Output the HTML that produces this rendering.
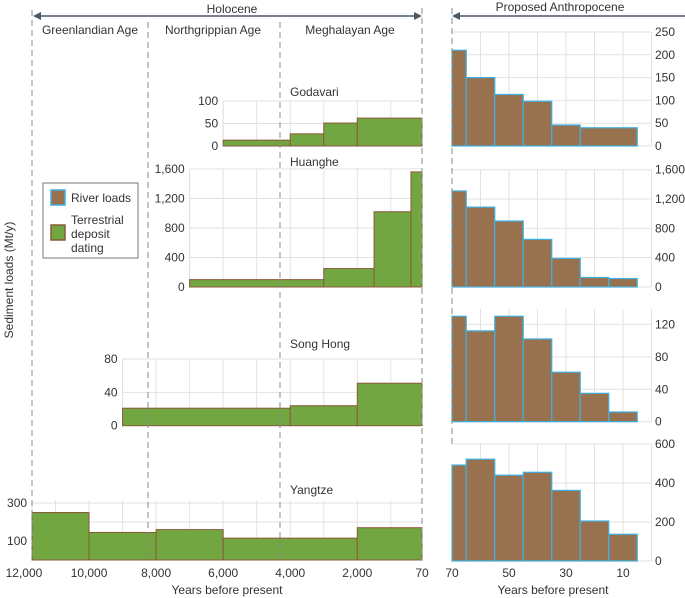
<!DOCTYPE html>
<html><head><meta charset="utf-8">
<style>
html,body{margin:0;padding:0;background:#fff;}
svg{display:block;font-family:"Liberation Sans Narrow","Liberation Sans",sans-serif;}
text{fill:#333;font-size:12px;}
</style></head>
<body>
<svg id="chart" width="685" height="598" viewBox="0 0 685 598" xmlns="http://www.w3.org/2000/svg">
 <g id="annot">
  <text x="232" y="13" text-anchor="middle">Holocene</text>
  <line x1="36" y1="16" x2="420" y2="16" stroke="#4a5868" stroke-width="1.5"/>
  <path d="M33,16 l8,-4 v8z M422,16 l-8,-4 v8z" fill="#4a5868"/>
  <text x="560" y="11" text-anchor="middle">Proposed Anthropocene</text>
  <line x1="456" y1="16" x2="685" y2="16" stroke="#4a5868" stroke-width="1.5"/>
  <path d="M452,16 l8,-4 v8z" fill="#4a5868"/>
  <text x="90" y="34" text-anchor="middle">Greenlandian Age</text>
  <text x="213" y="34" text-anchor="middle">Northgrippian Age</text>
  <text x="350" y="34" text-anchor="middle">Meghalayan Age</text>
  <text transform="translate(13,280) rotate(-90)" text-anchor="middle">Sediment loads (Mt/y)</text>
  <text x="227" y="594" text-anchor="middle">Years before present</text>
  <text x="553" y="594" text-anchor="middle">Years before present</text>
 </g>
 <g id="plots"></g>
 <g id="dashes"></g>
 <g id="legend">
  <rect x="43" y="183" width="95" height="75" fill="#fff" stroke="#777" stroke-width="1"/>
  <rect x="51" y="190" width="14" height="15" fill="#98724f" stroke="#3fb0e0" stroke-width="1.5"/>
  <text x="71" y="202">River loads</text>
  <rect x="51" y="225" width="14" height="15" fill="#72a640" stroke="#8a5a3a" stroke-width="1.5"/>
  <text x="71" y="224">Terrestrial</text>
  <text x="71" y="238">deposit</text>
  <text x="71" y="252">dating</text>
 </g>
</svg>
<script>
// ---- data ----
const rivers = ["Godavari","Huanghe","Song Hong","Yangtze"];
const godavariEdges = [6000,4000,3000,2000,70];
const godavariVals = [13,27,51,62];
const huangheEdges = [7000,3000,1500,400,70];
const huangheVals = [100,250,1020,1560];
const songhongEdges = [9000,4000,2000,70];
const songhongVals = [21,24,51];
const yangtzeEdges = [11700,10000,8000,6000,2000,70];
const yangtzeVals = [250,145,160,115,170];
const godavariRecentEdges = [70,65,55,45,35,25,5];
const godavariRecentVals = [210,150,113,98,46,40];
const recentEdges = [70,65,55,45,35,25,15,5];
const huangheRecentVals = [1310,1090,900,650,390,130,115];
const songhongRecentVals = [130,112,130,102,61,35,12];
const yangtzeRecentVals = [492,522,440,455,362,205,137];
const godavariTicks = [0,50,100];
const huangheTicks = [0,400,800,1200,1600];
const songhongTicks = [0,40,80];
const yangtzeTicks = [100,300];
const godavariRecentTicks = [0,50,100,150,200,250];
const huangheRecentTicks = [0,400,800,1200,1600];
const songhongRecentTicks = [0,40,80,120];
const yangtzeRecentTicks = [0,200,400,600];
const leftXTicks = [12000,10000,8000,6000,4000,2000,70];
const leftXTickLabels = ["12,000","10,000","8,000","6,000","4,000","2,000","70"];
const rightXTicks = [70,50,30,10];

// ---- helpers ----
const NS="http://www.w3.org/2000/svg";
const plots=document.getElementById('plots');
function mk(tag,attrs,parent){const e=document.createElementNS(NS,tag);for(const k in attrs)e.setAttribute(k,attrs[k]);(parent||plots).appendChild(e);return e;}
const xL = y => 424.35 - y*0.03353;
const xR = y => 452 + (70-y)*2.85;

function leftPanel(name,edges,vals,ticks,zeroY,unitPx,topY,gridTicks){
  const g=mk('g',{});
  
  
  const yS=v=>zeroY-v*unitPx;
  const x0=xL(edges[0]), x1=xL(70);
  for(let yr=Math.floor(edges[0]/1000)*1000; yr>0; yr-=1000){
    const x=xL(yr); if(x<x0-0.5) continue;
    mk('line',{x1:x,x2:x,y1:topY,y2:zeroY,stroke:'#e2e2e2','stroke-width':1},g);
  }
  gridTicks.forEach(t=>mk('line',{x1:x0,x2:x1,y1:yS(t),y2:yS(t),stroke:'#e2e2e2','stroke-width':1},g));
  mk('line',{x1:x0,x2:x0,y1:topY,y2:zeroY,stroke:'#e2e2e2'},g);
  for(let i=0;i<vals.length;i++){
    const a=xL(edges[i]), b=xL(edges[i+1]);
    const r=mk('rect',{x:a,y:yS(vals[i]),width:b-a,height:vals[i]*unitPx,fill:'#72a640',stroke:'#8a5a3a','stroke-width':1},g);
    
    
  }
  ticks.forEach(t=>{
    const tx=mk('text',{x:x0-5,y:yS(t)+4,'text-anchor':'end'},g);
    tx.textContent=t.toLocaleString('en-US');
    
    
  });
  return g;
}
function rightPanel(name,edges,vals,ticks,zeroY,unitPx,topY){
  const g=mk('g',{});
  
  
  const yS=v=>zeroY-v*unitPx;
  for(let yr=60;yr>=0;yr-=10) mk('line',{x1:xR(yr),x2:xR(yr),y1:topY,y2:zeroY,stroke:'#e2e2e2'},g);
  ticks.forEach(t=>mk('line',{x1:452,x2:651,y1:yS(t),y2:yS(t),stroke:'#e2e2e2'},g));
  for(let i=0;i<vals.length;i++){
    const a=xR(edges[i]), b=xR(edges[i+1]);
    const r=mk('rect',{x:a,y:yS(vals[i]),width:b-a,height:vals[i]*unitPx,fill:'#98724f',stroke:'#3fb0e0','stroke-width':1.2},g);
    
    
  }
  ticks.forEach(t=>{
    const tx=mk('text',{x:655,y:yS(t)+4},g);
    tx.textContent=t.toLocaleString('en-US');
    
    
  });
}
function title(txt,y){
  const t=mk('text',{x:290,y:y});
  t.textContent=txt;
  
  
}

leftPanel(rivers[0],godavariEdges,godavariVals,godavariTicks,146,0.45,101,[0,50,100]);
leftPanel(rivers[1],huangheEdges,huangheVals,huangheTicks,287,0.0738,169,[400,800,1200,1600]);
leftPanel(rivers[2],songhongEdges,songhongVals,songhongTicks,425.7,0.833,359,[40,80]);
leftPanel(rivers[3],yangtzeEdges,yangtzeVals,yangtzeTicks,560,0.19,500,[100,200,300]);
rightPanel(rivers[0],godavariRecentEdges,godavariRecentVals,godavariRecentTicks,146,0.456,32);
rightPanel(rivers[1],recentEdges,huangheRecentVals,huangheRecentTicks,287,0.0733,170);
rightPanel(rivers[2],recentEdges,songhongRecentVals,songhongRecentTicks,421.7,0.811,309);
rightPanel(rivers[3],recentEdges,yangtzeRecentVals,yangtzeRecentTicks,561,0.195,444);
title('Godavari',96); title('Huanghe',166); title('Song Hong',348); title('Yangtze',494);

leftXTicks.forEach((t,i)=>{
  const tx=mk('text',{x:xL(t)+(t===12000?2:0),y:577,'text-anchor':'middle'});
  tx.textContent=leftXTickLabels[i];
  
  
});
rightXTicks.forEach(t=>{
  const tx=mk('text',{x:xR(t),y:577,'text-anchor':'middle'});
  tx.textContent=t;
  
  
});

// dashed boundaries
const dg=document.getElementById('dashes');
[[32,10,560],[148,22,560],[280,22,560],[422,8,560],[452,8,445]].forEach(d=>{
  const l=mk('line',{x1:d[0],x2:d[0],y1:d[1],y2:d[2],stroke:'#888','stroke-width':1,'stroke-dasharray':'6,4'},dg);
  
  
});
</script>
</body></html>
